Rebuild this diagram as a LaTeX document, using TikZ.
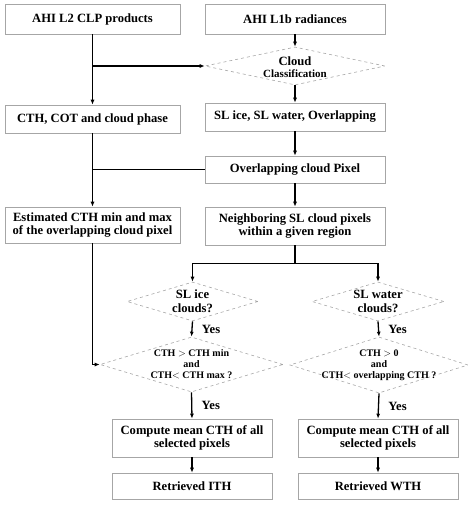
\documentclass[tikz,border=0pt]{standalone}
\usepackage{fontspec}
\setmainfont{Liberation Serif}
\usetikzlibrary{arrows.meta,positioning,shapes.geometric}

\begin{document}
\begin{tikzpicture}[x=1pt, y=-1pt, font=\bfseries\fontsize{12.6}{13.6}\selectfont,
  procbox/.style={draw=gray!70, line width=0.6pt, align=center, inner sep=1pt},
  decide/.style={draw=gray!70, dashed, line width=0.6pt, diamond, inner sep=0pt},
  flow/.style={line width=1.3pt, -{Latex[length=5pt,width=4pt]}},
  small/.style={font=\bfseries\fontsize{10}{11}\selectfont, align=center}]
\useasboundingbox (0,0) rectangle (474,505);

% inputs
\node[procbox, minimum width=175pt, minimum height=30pt] (l2) at (92.5,19) {AHI L2 CLP products};
\node[procbox, minimum width=180pt, minimum height=30pt] (l1b) at (295,19) {AHI L1b radiances};

% classification
\node[decide, minimum width=180pt, minimum height=38pt] (cls) at (295,66) {};
\node[align=center, inner sep=0pt] (clstext) at (295,67) {Cloud\\[-1pt]{\fontsize{11}{11}\selectfont Classification}};

\node[procbox, minimum width=175pt, minimum height=28pt] (cth) at (92.5,119) {CTH, COT and cloud phase};
\node[procbox, minimum width=180pt, minimum height=28pt] (slc) at (295,117) {SL ice, SL water, Overlapping};
\node[procbox, minimum width=180pt, minimum height=27pt] (ovl) at (295,169.5) {Overlapping cloud Pixel};

\node[procbox, minimum width=175pt, minimum height=36pt] (est) at (92.5,225) {Estimated CTH min and max\\of the overlapping cloud pixel};
\node[procbox, minimum width=180pt, minimum height=38pt] (nbr) at (295,226) {Neighboring SL cloud pixels\\within a given region};

% SL tests
\node[decide, minimum width=131pt, minimum height=39pt] (ice) at (192.5,301.5) {};
\node[align=center, inner sep=0pt] (icetext) at (192.5,301.5) {SL ice\\clouds?};
\node[decide, minimum width=132pt, minimum height=39pt] (wat) at (378,301.5) {};
\node[align=center, inner sep=0pt] (wattext) at (378,301.5) {SL water\\clouds?};

% CTH tests
\node[decide, minimum width=183pt, minimum height=55pt] (cnd1) at (191.5,364.5) {};
\node[small, inner sep=0pt] (cnd1text) at (191.5,364.5) {CTH $>$ CTH min\\and\\CTH$<$ CTH max ?};
\node[decide, minimum width=178pt, minimum height=56pt] (cnd2) at (379,365) {};
\node[small, inner sep=0pt] (cnd2text) at (379,365) {CTH $>$ 0\\and\\CTH$<$ overlapping CTH ?};

% outputs
\node[procbox, minimum width=160pt, minimum height=38pt] (cmp1) at (192,438) {Compute mean CTH of all\\selected pixels};
\node[procbox, minimum width=160pt, minimum height=38pt] (cmp2) at (378,438) {Compute mean CTH of all\\selected pixels};
\node[procbox, minimum width=160pt, minimum height=26pt] (ret1) at (192,486) {Retrieved ITH};
\node[procbox, minimum width=160pt, minimum height=26pt] (ret2) at (378,486) {Retrieved WTH};

% connectors
\draw[flow] (l2.south) -- (cth.north);
\draw[flow] (l2.south |- cls.west) -- (cls.west);
\draw[flow] (l1b.south) -- (cls.north);
\draw[flow] (cls.south) -- (slc.north);
\draw[flow] (slc.south) -- (ovl.north);
\draw[flow] (cth.south) -- (est.north);
\draw[line width=1.3pt] (ovl.west) -- (cth.south |- ovl.west);
\draw[flow] (ovl.south) -- (nbr.north);
\draw[flow] (nbr.south) -- ++(0,18) -| (ice.north);
\draw[flow] (nbr.south) -- ++(0,18) -| (wat.north);
\draw[flow] (ice.south) -- node[right=6pt] {Yes} (cnd1.north);
\draw[flow] (wat.south) -- node[right=6pt] {Yes} (cnd2.north);
\draw[flow] (est.south) |- (cnd1.west);
\draw[flow] (cnd1.south) -- node[right=6pt] {Yes} (cmp1.north);
\draw[flow] (cnd2.south) -- node[right=6pt] {Yes} (cmp2.north);
\draw[flow] (cmp1.south) -- (ret1.north);
\draw[flow] (cmp2.south) -- (ret2.north);
\end{tikzpicture}
\end{document}
